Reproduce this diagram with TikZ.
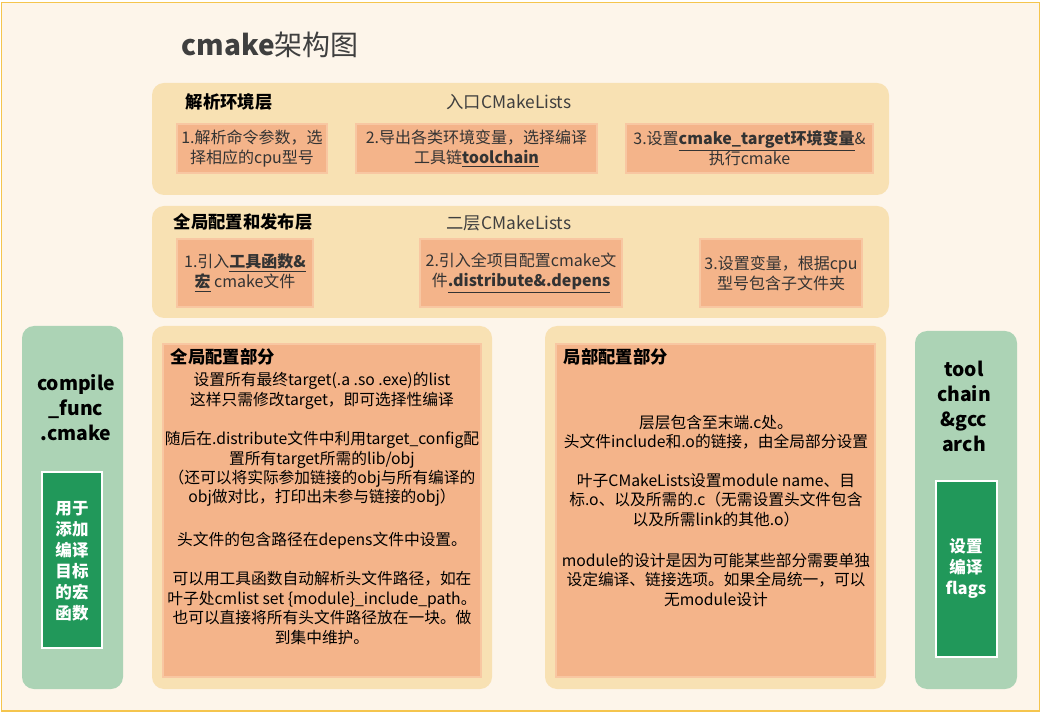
\documentclass[tikz,border=0pt]{standalone}
\usepackage{fontspec}
\setmainfont{Noto Sans CJK SC}

\definecolor{pagecream}{HTML}{FDF5EA}
\definecolor{frameyellow}{HTML}{F5C54D}
\definecolor{layerwheat}{HTML}{F8E1B3}
\definecolor{cellsalmon}{HTML}{F4B48A}
\definecolor{celledge}{HTML}{F8C7A2}
\definecolor{sidegreen}{HTML}{ACD3B5}
\definecolor{flaggreen}{HTML}{21985A}
\definecolor{titlegray}{HTML}{3F3F3F}
\definecolor{celltextgray}{HTML}{333333}

\begin{document}
\begin{tikzpicture}[x=0.75pt, y=-0.75pt,
    layerbox/.style={fill=layerwheat, rounded corners=9pt},
    cellbox/.style={fill=cellsalmon, draw=celledge, line width=0.8pt},
    sidebox/.style={fill=sidegreen, rounded corners=9pt},
    flagbox/.style={fill=flaggreen, draw=white, line width=0.8pt},
    celltext/.style={align=center, text=celltextgray, font=\fontsize{12}{15}\selectfont},
    liststext/.style={text=titlegray, font=\fontsize{13}{16}\selectfont},
    bodytext/.style={align=center, font=\fontsize{11.8}{14.6}\selectfont},
    headtext/.style={anchor=west, font=\fontsize{13}{16}\selectfont\bfseries},
    sidetext/.style={align=center, font=\fontsize{14.5}{18.75}\selectfont\bfseries},
    flagtext/.style={align=center, text=white, font=\fontsize{12.4}{15.75}\selectfont\bfseries}]
    \useasboundingbox (0,0) rectangle (1041,712);

    % Page background and frame
    \draw[frameyellow, fill=pagecream, line width=1.2pt] (1.5,2.5) rectangle (1039.5,711);

    % Title
    \node[anchor=west, text=titlegray, font=\fontsize{21}{25}\selectfont] (title) at (177,45) {\textbf{cmake}架构图};

    % Layer 1: parse environment
    \path[layerbox] (152,83) rectangle (889,195);
    \node[headtext] (envlayer) at (181,102) {解析环境层};
    \node[liststext] (entrylists) at (509,102) {入口CMakeLists};
    \draw[cellbox] (177,124) rectangle (327,173);
    \draw[cellbox] (356,124) rectangle (597,173);
    \draw[cellbox] (626,124) rectangle (873,173);
    \node[celltext] (parseargs) at (252,148.5) {1.解析命令参数，选\\择相应的cpu型号};
    \node[celltext] (exportenv) at (476.5,148.5) {2.导出各类环境变量，选择编译\\工具链\underline{\textbf{toolchain}}};
    \node[celltext] (settarget) at (749.5,148.5) {3.设置\underline{\textbf{cmake\_target环境变量}}\&\\执行cmake};

    % Layer 2: global config and distribute
    \path[layerbox] (152,206) rectangle (889,318);
    \node[headtext] (globlayer) at (169,222) {全局配置和发布层};
    \node[liststext] (seclists) at (509,223) {二层CMakeLists};
    \draw[cellbox] (177,239) rectangle (313,307);
    \draw[cellbox] (420,239) rectangle (622,307);
    \draw[cellbox] (700,239) rectangle (862,307);
    \node[celltext] (toolfunc) at (245,273) {1.引入\underline{\textbf{工具函数\&}}\\\underline{\textbf{宏}} cmake文件};
    \node[celltext] (projconf) at (521,273) {2.引入全项目配置cmake文\\件\underline{\textbf{.distribute\&.depens}}};
    \node[celltext] (subdirs) at (781,273) {3.设置变量，根据cpu\\型号包含子文件夹};

    % Global config part
    \path[layerbox] (152,326) rectangle (492,689);
    \draw[cellbox] (163,344) rectangle (481,677);
    \node[headtext] (globpart) at (166,357) {全局配置部分};
    \node[bodytext] (globtarget) at (322,391) {设置所有最终target(.a .so .exe)的list\\这样只需修改target，即可选择性编译};
    \node[bodytext] (globdist) at (322,469) {随后在.distribute文件中利用target\_config配\\置所有target所需的lib/obj\\（还可以将实际参加链接的obj与所有编译的\\obj做对比，打印出未参与链接的obj）};
    \node[bodytext] (globinc) at (322,541) {头文件的包含路径在depens文件中设置。};
    \node[bodytext] (globpath) at (322,608) {可以用工具函数自动解析头文件路径，如在\\叶子处cmlist set \{module\}\_include\_path。\\也可以直接将所有头文件路径放在一块。做\\到集中维护。};

    % Local config part
    \path[layerbox] (545,326) rectangle (886,689);
    \draw[cellbox] (556,344) rectangle (875,677);
    \node[headtext] (locpart) at (559,357) {局部配置部分};
    \node[bodytext] (locleaf) at (716,432) {层层包含至末端.c处。\\头文件include和.o的链接，由全局部分设置};
    \node[bodytext] (locmod) at (716,500) {叶子CMakeLists设置module name、目\\标.o、以及所需的.c（无需设置头文件包含\\以及所需link的其他.o）};
    \node[bodytext] (locwhy) at (716,580) {module的设计是因为可能某些部分需要单独\\设定编译、链接选项。如果全局统一，可以\\无module设计};

    % Side panel: compile_func.cmake
    \path[sidebox] (22,326) rectangle (123,689);
    \node[sidetext] (funcname) at (76,408) {compile\\\_func\\.cmake};
    \draw[flagbox] (42,472) rectangle (102,648);
    \node[flagtext] (funcdesc) at (72,561) {用于\\添加\\编译\\目标\\的宏\\函数};

    % Side panel: toolchain & gcc arch
    \path[sidebox] (915,331) rectangle (1017,689);
    \node[sidetext] (chainname) at (964,406.5) {tool\\chain\\\&gcc\\arch};
    \draw[flagbox] (936,481) rectangle (997,657);
    \node[flagtext] (chaindesc) at (966,568) {设置\\编译\\flags};
\end{tikzpicture}
\end{document}
